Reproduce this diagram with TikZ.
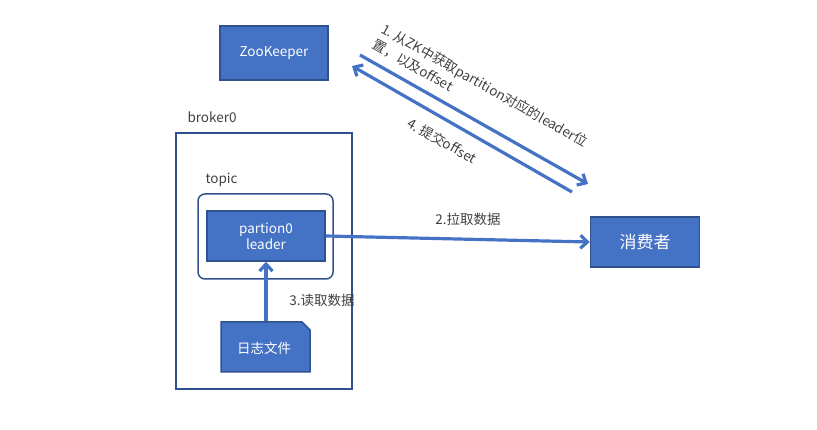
\documentclass[tikz,border=0pt]{standalone}
\usepackage{fontspec}
\setmainfont{Noto Sans CJK SC}
\usetikzlibrary{shapes,positioning,arrows.meta}
\definecolor{boxfill}{HTML}{4472C4}
\definecolor{boxline}{HTML}{2F528F}
\definecolor{txt}{HTML}{404040}
\tikzset{
  blk/.style={draw=boxline,fill=boxfill,line width=1.5pt,text=white,font=\fontsize{13.5}{15}\selectfont,align=center},
  lnk/.style={boxfill,line width=3.2pt,-{Straight Barb[length=7pt,width=13pt]}},
  lbl/.style={text=txt,font=\fontsize{13.5}{15}\selectfont}
}
\begin{document}
\begin{tikzpicture}[x=1pt,y=-1pt]
\useasboundingbox (0,0) rectangle (817,430);

\node[blk,minimum width=108,minimum height=54] (zk) at (274,53) {ZooKeeper};
\draw[boxline,line width=1.5pt] (176,133) rectangle (352,389);
\node[lbl,anchor=west] (broker) at (184,117) {broker0};
\draw[boxline,line width=1.5pt,rounded corners=7] (198,194) rectangle (333,279);
\node[lbl,anchor=west] (topic) at (202,180) {topic};
\node[blk,minimum width=118,minimum height=50] (part) at (266,236) {partion0\\[1pt]leader};
\node[blk,minimum width=109,minimum height=50] (cons) at (645,242) {\fontsize{17}{19}\selectfont 消费者};
\filldraw[draw=boxline,fill=boxfill,line width=1.5pt] (221,322) -- (302,322) -- (310,330) -- (310,372) -- (221,372) -- cycle;
\node[text=white,font=\fontsize{13.5}{15}\selectfont] (log) at (264,348) {日志文件};
\coordinate (logtop) at (266,321);

% arrows
\coordinate (a1) at (360,55);
\coordinate (b1) at (588,184);
\coordinate (a4) at (572,192);
\coordinate (b4) at (352,66);
\draw[lnk] (a1) -- (b1);
\draw[lnk] (a4) -- (b4);
\draw[lnk] (part.east) -- (cons.west);
\draw[lnk] (logtop) -- (part.south);

\node[lbl,anchor=north west,rotate=-29.5,align=left,inner sep=0pt] (t1) at (386,22) {1.\ 从ZK中获取partition对应的leader位\\[3pt]置，以及offset};
\node[lbl,rotate=-29.5] (t4) at (442,141) {4.\ 提交offset};
\node[lbl] (t2) at (468,219) {2.拉取数据};
\node[lbl] (t3) at (322,300) {3.读取数据};
\end{tikzpicture}
\end{document}
